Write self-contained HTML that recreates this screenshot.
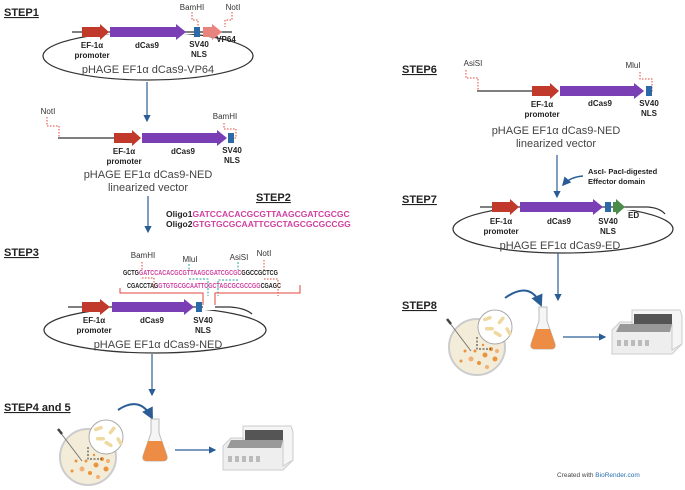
<!DOCTYPE html>
<html><head><meta charset="utf-8"><style>
body{margin:0;background:#fff}
svg{display:block}
text{font-family:"Liberation Sans",sans-serif}
.st{font-weight:bold;font-size:11px;fill:#222;text-decoration:underline}
.lb{font-weight:bold;font-size:8px;fill:#222;text-anchor:middle}
.en{font-size:8px;fill:#333;text-anchor:middle}
.ti{font-size:11px;fill:#444;text-anchor:middle}
.sq{font-weight:bold;font-size:7px}
.dot{stroke:#e0443a;stroke-width:1;stroke-dasharray:1.5 1.5;fill:none}
</style></head><body>
<svg width="685" height="490" viewBox="0 0 685 490" xmlns="http://www.w3.org/2000/svg">
<defs>
<marker id="ah" markerWidth="6" markerHeight="6" refX="5" refY="3" orient="auto"><path d="M0,0 L6,3 L0,6 z" fill="#2a5d96"/></marker>
<g id="dish">
<circle cx="0" cy="0" r="28" fill="#f3ecd8" stroke="#ccc" stroke-width="2"/>
<circle cx="8" cy="8" r="2.5" fill="#e9943e"/><circle cx="14" cy="2" r="2" fill="#e9943e"/><circle cx="-6" cy="12" r="2.5" fill="#f0b078"/><circle cx="2" cy="16" r="2" fill="#e9943e"/><circle cx="18" cy="12" r="2.5" fill="#e9943e"/><circle cx="-12" cy="4" r="1.5" fill="#e9943e"/><circle cx="10" cy="20" r="2" fill="#f0b078"/><circle cx="-2" cy="4" r="1.5" fill="#e9943e"/><circle cx="20" cy="4" r="2" fill="#f0b078"/><circle cx="-16" cy="14" r="1.5" fill="#e9943e"/><circle cx="6" cy="-2" r="1.2" fill="#e9943e"/>
<line x1="-28" y1="-25" x2="-6" y2="4" stroke="#777" stroke-width="1"/><line x1="-30" y1="-28" x2="-26" y2="-23" stroke="#444" stroke-width="2.5"/>
<path d="M0,-10 L0,2 L14,2" stroke="#333" stroke-dasharray="2 1.5" fill="none"/>
<circle cx="18" cy="-20" r="17" fill="#fff" stroke="#aaa" stroke-width="1"/>
<g fill="#f0d9a0"><rect x="6" y="-30" width="9" height="3.5" rx="1.7" transform="rotate(-20 10 -28)"/><rect x="20" y="-28" width="9" height="3.5" rx="1.7" transform="rotate(-50 24 -26)"/><rect x="8" y="-20" width="9" height="3.5" rx="1.7"/><rect x="16" y="-15" width="9" height="3.5" rx="1.7" transform="rotate(30 20 -13)"/><rect x="27" y="-18" width="9" height="3.5" rx="1.7" transform="rotate(60 31 -16)"/></g>
</g>
<g id="flask">
<path d="M-4,-22 L4,-22 L4,-8 L12,15 Q13,20 8,20 L-8,20 Q-13,20 -12,15 L-4,-8 Z" fill="#f5f5f5" stroke="#bbb"/>
<path d="M-7,0 L7,0 L12,15 Q13,20 8,20 L-8,20 Q-13,20 -12,15 Z" fill="#ec8c45"/>
</g>
<g id="mach">
<path d="M0,10 L8,2 L62,2 L70,-4 L70,24 L60,34 L0,34 Z" fill="#eee" stroke="#ccc"/>
<path d="M20,-10 L68,-10 L70,-4 L70,24 L60,30 L60,4 L20,4 Z" fill="#f5f5f5" stroke="#ccc"/>
<rect x="22" y="-6" width="38" height="10" fill="#555"/>
<path d="M8,4 L60,4 L58,12 L4,12 Z" fill="#999"/>
<g fill="#bbb"><rect x="5" y="20" width="4" height="6"/><rect x="12" y="20" width="4" height="6"/><rect x="19" y="20" width="4" height="6"/><rect x="26" y="20" width="4" height="6"/><rect x="33" y="20" width="4" height="6"/></g>
</g>
</defs>

<!-- STEP1 -->
<text x="4" y="16" class="st">STEP1</text>
<ellipse cx="148" cy="56" rx="105" ry="24" fill="none" stroke="#333" stroke-width="1.2"/>
<rect x="70" y="30" width="162" height="4" fill="#fff"/>
<line x1="72" y1="32" x2="232" y2="32" stroke="#333" stroke-width="1.2"/>
<path d="M82,27 L100,27 L100,24 L109,32 L100,40 L100,37 L82,37Z" fill="#c0392b"/>
<path d="M110,27 L176,27 L176,24 L186,32 L176,40 L176,37 L110,37Z" fill="#7a3fb5"/>
<rect x="194" y="27" width="6" height="10" fill="#2b6aa6"/>
<path d="M203,27 L212,27 L212,24 L222,32 L212,40 L212,37 L203,37Z" fill="#e8837e"/>
<path class="dot" d="M192,12 V20 H198 V27"/><path class="dot" d="M232,12 V20 H225 V27"/>
<text x="192" y="10" class="en">BamHI</text><text x="233" y="10" class="en">NotI</text>
<text x="92" y="48" class="lb">EF-1α</text><text x="92" y="58" class="lb">promoter</text>
<text x="147" y="48" class="lb">dCas9</text>
<text x="199" y="47" class="lb">SV40</text><text x="199" y="57" class="lb">NLS</text>
<text x="226" y="42" class="lb">VP64</text>
<text x="148" y="73" class="ti">pHAGE EF1α dCas9-VP64</text>
<line x1="147" y1="82" x2="147" y2="121" stroke="#2a5d96" stroke-width="1.2" marker-end="url(#ah)"/>

<text x="48" y="114" class="en">NotI</text>
<path class="dot" d="M47,117 V126 H59 V137"/>
<line x1="58" y1="138" x2="115" y2="138" stroke="#333" stroke-width="1.2"/>
<path d="M114,133 L132,133 L132,130 L141,138 L132,146 L132,143 L114,143Z" fill="#c0392b"/>
<path d="M142,133 L217,133 L217,130 L227,138 L217,146 L217,143 L142,143Z" fill="#7a3fb5"/>
<rect x="228" y="133" width="6" height="10" fill="#2b6aa6"/>
<text x="225" y="119" class="en">BamHI</text>
<path class="dot" d="M224,123 V129 H236 V138 H234"/>
<text x="124" y="154" class="lb">EF-1α</text><text x="124" y="164" class="lb">promoter</text>
<text x="183" y="154" class="lb">dCas9</text>
<text x="232" y="153" class="lb">SV40</text><text x="232" y="163" class="lb">NLS</text>
<text x="148" y="178" class="ti">pHAGE EF1α dCas9-NED</text>
<text x="148" y="191" class="ti">linearized vector</text>
<line x1="148" y1="196" x2="148" y2="232" stroke="#2a5d96" stroke-width="1.2" marker-end="url(#ah)"/>

<!-- STEP2 -->
<text x="256" y="201" class="st">STEP2</text>
<text x="166" y="217" style="font-size:8.5px;font-weight:bold"><tspan fill="#222">Oligo1</tspan><tspan fill="#d13fa0">GATCCACACGCGTTAAGCGATCGCGC</tspan></text>
<text x="166" y="227" style="font-size:8.5px;font-weight:bold"><tspan fill="#222">Oligo2</tspan><tspan fill="#d13fa0">GTGTGCGCAATTCGCTAGCGCGCCGG</tspan></text>

<!-- STEP3 -->
<text x="4" y="256" class="st">STEP3</text>
<text x="143" y="258" class="en">BamHI</text><text x="190" y="262" class="en">MluI</text><text x="239" y="260" class="en">AsiSI</text><text x="264" y="256" class="en">NotI</text>
<text x="123" y="275" class="sq" textLength="155" lengthAdjust="spacingAndGlyphs"><tspan fill="#222">GCTG</tspan><tspan fill="#d13fa0">GATCCACACGCGTTAAGCGATCGCGC</tspan><tspan fill="#222">GGCCGCTCG</tspan></text>
<text x="127" y="288" class="sq" textLength="154" lengthAdjust="spacingAndGlyphs"><tspan fill="#222">CGACCTAG</tspan><tspan fill="#d13fa0">GTGTGCGCAATTCGCTAGCGCGCCGG</tspan><tspan fill="#222">CGAGC</tspan></text>
<path class="dot" d="M142,262 V270 M142,278 H154 V290 M264,260 V270 M264,279 H278 V296"/>
<path d="M189,264 V270 M189,279 H208 V296 M238,262 V270 M238,280 H218 V296" stroke="#26a69a" stroke-dasharray="2 1.5" fill="none"/>
<path d="M120,288 V293 H203 V306" stroke="#e0443a" fill="none" stroke-width="1"/>
<path d="M215,307 V293 H300 V285" stroke="#e0443a" fill="none" stroke-width="1"/>
<ellipse cx="155" cy="330" rx="111" ry="23" fill="none" stroke="#333" stroke-width="1.2"/>
<rect x="66" y="305" width="162" height="5" fill="#fff"/>
<path d="M68,307 L203,307 M215,307 L230,307 Q245,308 252,314" stroke="#333" stroke-width="1.2" fill="none"/>
<path d="M82,302 L100,302 L100,299 L110,307 L100,315 L100,312 L82,312Z" fill="#c0392b"/>
<path d="M112,302 L184,302 L184,299 L194,307 L184,315 L184,312 L112,312Z" fill="#7a3fb5"/>
<rect x="196" y="302" width="6" height="10" fill="#2b6aa6"/>
<text x="94" y="323" class="lb">EF-1α</text><text x="94" y="333" class="lb">promoter</text>
<text x="152" y="323" class="lb">dCas9</text>
<text x="203" y="323" class="lb">SV40</text><text x="203" y="333" class="lb">NLS</text>
<text x="158" y="348" class="ti">pHAGE EF1α dCas9-NED</text>
<line x1="152" y1="354" x2="152" y2="395" stroke="#2a5d96" stroke-width="1.2" marker-end="url(#ah)"/>

<!-- STEP4 and 5 -->
<text x="4" y="411" class="st">STEP4 and 5</text>
<path d="M118,410 Q140,395 152,418" stroke="#2a5d96" stroke-width="2" fill="none" marker-end="url(#ah)"/>
<use href="#dish" x="88" y="457"/>
<use href="#flask" x="155" y="441"/>
<line x1="175" y1="450" x2="215" y2="450" stroke="#2a5d96" stroke-width="1.2" marker-end="url(#ah)"/>
<use href="#mach" x="223" y="436"/>

<!-- STEP6 -->
<text x="402" y="73" class="st">STEP6</text>
<text x="473" y="66" class="en">AsiSI</text><text x="633" y="68" class="en">MluI</text>
<path class="dot" d="M466,70 V78 H478 V91"/><path class="dot" d="M640,72 V79 H652 V91 H650"/>
<line x1="477" y1="91" x2="533" y2="91" stroke="#333" stroke-width="1.2"/>
<path d="M532,86 L550,86 L550,83 L559,91 L550,99 L550,96 L532,96Z" fill="#c0392b"/>
<path d="M560,86 L634,86 L634,83 L644,91 L634,99 L634,96 L560,96Z" fill="#7a3fb5"/>
<rect x="646" y="86" width="6" height="10" fill="#2b6aa6"/>
<text x="542" y="107" class="lb">EF-1α</text><text x="542" y="117" class="lb">promoter</text>
<text x="600" y="106" class="lb">dCas9</text>
<text x="649" y="106" class="lb">SV40</text><text x="649" y="116" class="lb">NLS</text>
<text x="556" y="134" class="ti">pHAGE EF1α dCas9-NED</text>
<text x="556" y="147" class="ti">linearized vector</text>
<line x1="557" y1="155" x2="557" y2="197" stroke="#2a5d96" stroke-width="1.2" marker-end="url(#ah)"/>
<path d="M583,176 Q570,177 563,185" stroke="#2a5d96" stroke-width="1.5" fill="none" marker-end="url(#ah)"/>
<text x="588" y="174" style="font-size:7.5px;font-weight:bold;fill:#222">AscI- PacI-digested</text>
<text x="588" y="184" style="font-size:7.5px;font-weight:bold;fill:#222">Effector domain</text>

<!-- STEP7 -->
<text x="402" y="203" class="st">STEP7</text>
<ellipse cx="563" cy="229" rx="110" ry="24" fill="none" stroke="#333" stroke-width="1.2"/>
<rect x="478" y="204" width="172" height="6" fill="#fff"/>
<path d="M480,207 L648,207 Q660,208 665,214" stroke="#333" stroke-width="1.2" fill="none"/>
<path d="M492,202 L510,202 L510,199 L519,207 L510,215 L510,212 L492,212Z" fill="#c0392b"/>
<path d="M520,202 L593,202 L593,199 L603,207 L593,215 L593,212 L520,212Z" fill="#7a3fb5"/>
<rect x="605" y="202" width="6" height="10" fill="#2b6aa6"/>
<path d="M613,202 L616,202 L616,199 L625,207 L616,215 L616,212 L613,212Z" fill="#4c8c4a"/>
<text x="628" y="218" style="font-size:8px;font-weight:bold;fill:#222">ED</text>
<text x="501" y="224" class="lb">EF-1α</text><text x="501" y="234" class="lb">promoter</text>
<text x="559" y="224" class="lb">dCas9</text>
<text x="608" y="224" class="lb">SV40</text><text x="608" y="234" class="lb">NLS</text>
<text x="560" y="249" class="ti">pHAGE EF1α dCas9-ED</text>
<line x1="558" y1="253" x2="558" y2="300" stroke="#2a5d96" stroke-width="1.2" marker-end="url(#ah)"/>

<!-- STEP8 -->
<text x="402" y="309" class="st">STEP8</text>
<path d="M505,298 Q530,280 541,305" stroke="#2a5d96" stroke-width="2" fill="none" marker-end="url(#ah)"/>
<use href="#dish" x="477" y="347"/>
<use href="#flask" x="543" y="329"/>
<line x1="563" y1="337" x2="605" y2="337" stroke="#2a5d96" stroke-width="1.2" marker-end="url(#ah)"/>
<use href="#mach" x="612" y="320"/>

<text x="557" y="477" style="font-size:6.5px;fill:#444">Created with <tspan fill="#2a6fb0">BioRender.com</tspan></text>
</svg>
</body></html>
